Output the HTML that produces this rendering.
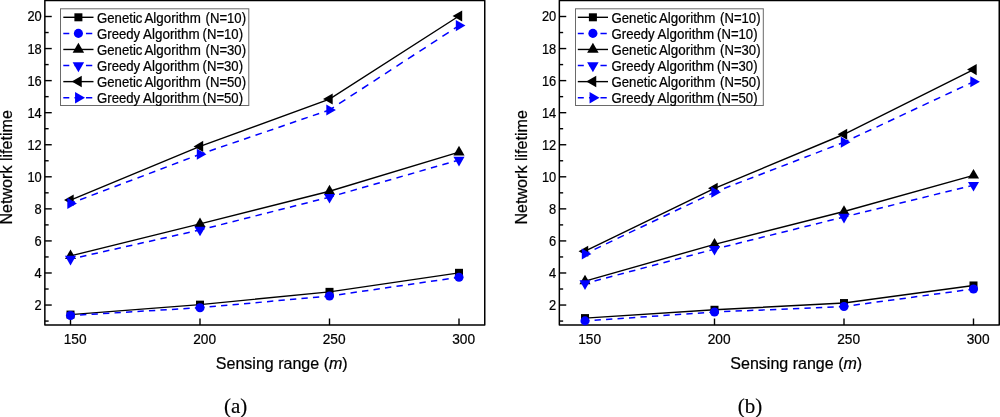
<!DOCTYPE html>
<html lang="en"><head><meta charset="utf-8"><title>Network lifetime vs sensing range</title>
<style>html,body{margin:0;padding:0;background:#fff;}svg{display:block;}text{fill:#000;}</style></head><body>
<svg width="1000" height="417" viewBox="0 0 1000 417">
<rect x="0" y="0" width="1000" height="417" fill="#fff"/>
<g transform="translate(0,0)">
<rect x="44.85" y="0.5" width="439.90" height="324.60" fill="none" stroke="#000" stroke-width="1.5" stroke-linejoin="round"/>
<line x1="44.85" y1="321.07" x2="48.65" y2="321.07" stroke="#000" stroke-width="1.4"/>
<line x1="44.85" y1="305.04" x2="51.75" y2="305.04" stroke="#000" stroke-width="1.4"/>
<text transform="translate(41.70,309.99) scale(0.94,1.07)" text-anchor="end" font-size="13.7" font-family="Liberation Sans, Arial, Helvetica, sans-serif" stroke="#000" stroke-width="0.22">2</text>
<line x1="44.85" y1="289.01" x2="48.65" y2="289.01" stroke="#000" stroke-width="1.4"/>
<line x1="44.85" y1="272.98" x2="51.75" y2="272.98" stroke="#000" stroke-width="1.4"/>
<text transform="translate(41.70,277.93) scale(0.94,1.07)" text-anchor="end" font-size="13.7" font-family="Liberation Sans, Arial, Helvetica, sans-serif" stroke="#000" stroke-width="0.22">4</text>
<line x1="44.85" y1="256.95" x2="48.65" y2="256.95" stroke="#000" stroke-width="1.4"/>
<line x1="44.85" y1="240.92" x2="51.75" y2="240.92" stroke="#000" stroke-width="1.4"/>
<text transform="translate(41.70,245.87) scale(0.94,1.07)" text-anchor="end" font-size="13.7" font-family="Liberation Sans, Arial, Helvetica, sans-serif" stroke="#000" stroke-width="0.22">6</text>
<line x1="44.85" y1="224.89" x2="48.65" y2="224.89" stroke="#000" stroke-width="1.4"/>
<line x1="44.85" y1="208.86" x2="51.75" y2="208.86" stroke="#000" stroke-width="1.4"/>
<text transform="translate(41.70,213.81) scale(0.94,1.07)" text-anchor="end" font-size="13.7" font-family="Liberation Sans, Arial, Helvetica, sans-serif" stroke="#000" stroke-width="0.22">8</text>
<line x1="44.85" y1="192.83" x2="48.65" y2="192.83" stroke="#000" stroke-width="1.4"/>
<line x1="44.85" y1="176.80" x2="51.75" y2="176.80" stroke="#000" stroke-width="1.4"/>
<text transform="translate(41.70,181.75) scale(0.94,1.07)" text-anchor="end" font-size="13.7" font-family="Liberation Sans, Arial, Helvetica, sans-serif" stroke="#000" stroke-width="0.22">10</text>
<line x1="44.85" y1="160.77" x2="48.65" y2="160.77" stroke="#000" stroke-width="1.4"/>
<line x1="44.85" y1="144.74" x2="51.75" y2="144.74" stroke="#000" stroke-width="1.4"/>
<text transform="translate(41.70,149.69) scale(0.94,1.07)" text-anchor="end" font-size="13.7" font-family="Liberation Sans, Arial, Helvetica, sans-serif" stroke="#000" stroke-width="0.22">12</text>
<line x1="44.85" y1="128.71" x2="48.65" y2="128.71" stroke="#000" stroke-width="1.4"/>
<line x1="44.85" y1="112.68" x2="51.75" y2="112.68" stroke="#000" stroke-width="1.4"/>
<text transform="translate(41.70,117.63) scale(0.94,1.07)" text-anchor="end" font-size="13.7" font-family="Liberation Sans, Arial, Helvetica, sans-serif" stroke="#000" stroke-width="0.22">14</text>
<line x1="44.85" y1="96.65" x2="48.65" y2="96.65" stroke="#000" stroke-width="1.4"/>
<line x1="44.85" y1="80.62" x2="51.75" y2="80.62" stroke="#000" stroke-width="1.4"/>
<text transform="translate(41.70,85.57) scale(0.94,1.07)" text-anchor="end" font-size="13.7" font-family="Liberation Sans, Arial, Helvetica, sans-serif" stroke="#000" stroke-width="0.22">16</text>
<line x1="44.85" y1="64.59" x2="48.65" y2="64.59" stroke="#000" stroke-width="1.4"/>
<line x1="44.85" y1="48.56" x2="51.75" y2="48.56" stroke="#000" stroke-width="1.4"/>
<text transform="translate(41.70,53.51) scale(0.94,1.07)" text-anchor="end" font-size="13.7" font-family="Liberation Sans, Arial, Helvetica, sans-serif" stroke="#000" stroke-width="0.22">18</text>
<line x1="44.85" y1="32.53" x2="48.65" y2="32.53" stroke="#000" stroke-width="1.4"/>
<line x1="44.85" y1="16.50" x2="51.75" y2="16.50" stroke="#000" stroke-width="1.4"/>
<text transform="translate(41.70,21.45) scale(0.94,1.07)" text-anchor="end" font-size="13.7" font-family="Liberation Sans, Arial, Helvetica, sans-serif" stroke="#000" stroke-width="0.22">20</text>
<line x1="70.50" y1="325.1" x2="70.50" y2="318.50" stroke="#000" stroke-width="1.4"/>
<text transform="translate(75.10,343.60) scale(1.0,1.07)" text-anchor="middle" font-size="13.7" font-family="Liberation Sans, Arial, Helvetica, sans-serif" stroke="#000" stroke-width="0.22">150</text>
<line x1="200.00" y1="325.1" x2="200.00" y2="318.50" stroke="#000" stroke-width="1.4"/>
<text transform="translate(204.60,343.60) scale(1.0,1.07)" text-anchor="middle" font-size="13.7" font-family="Liberation Sans, Arial, Helvetica, sans-serif" stroke="#000" stroke-width="0.22">200</text>
<line x1="329.50" y1="325.1" x2="329.50" y2="318.50" stroke="#000" stroke-width="1.4"/>
<text transform="translate(334.10,343.60) scale(1.0,1.07)" text-anchor="middle" font-size="13.7" font-family="Liberation Sans, Arial, Helvetica, sans-serif" stroke="#000" stroke-width="0.22">250</text>
<line x1="459.00" y1="325.1" x2="459.00" y2="318.50" stroke="#000" stroke-width="1.4"/>
<text transform="translate(463.60,343.60) scale(1.0,1.07)" text-anchor="middle" font-size="13.7" font-family="Liberation Sans, Arial, Helvetica, sans-serif" stroke="#000" stroke-width="0.22">300</text>
<text transform="translate(215.80,368.60)" text-anchor="start" font-size="16.05" font-family="Liberation Sans, Arial, Helvetica, sans-serif" stroke="#000" stroke-width="0.22">Sensing range (<tspan font-style="italic">m</tspan>)</text>
<text transform="translate(12.30,224.60) rotate(-90)" text-anchor="start" font-size="16.1" font-family="Liberation Sans, Arial, Helvetica, sans-serif" stroke="#000" stroke-width="0.22">Network lifetime</text>
<text transform="translate(235.60,413.00)" text-anchor="middle" font-size="21" font-family="Liberation Serif, Times New Roman, Times, serif" stroke="#000" stroke-width="0.15">(a)</text>
<polyline points="70.50,314.58 200.00,304.66 329.50,291.86 459.00,272.82" fill="none" stroke="#000" stroke-width="1.4"/>
<rect x="66.50" y="310.58" width="8.0" height="8.0" fill="#000"/>
<rect x="196.00" y="300.66" width="8.0" height="8.0" fill="#000"/>
<rect x="325.50" y="287.86" width="8.0" height="8.0" fill="#000"/>
<rect x="455.00" y="268.82" width="8.0" height="8.0" fill="#000"/>
<line x1="70.50" y1="315.54" x2="200.00" y2="307.70" stroke="#00f" stroke-width="1.5" stroke-dasharray="6.31 5.19" stroke-dashoffset="1.90"/>
<line x1="200.00" y1="307.70" x2="329.50" y2="296.02" stroke="#00f" stroke-width="1.5" stroke-dasharray="6.33 5.20" stroke-dashoffset="1.91"/>
<line x1="329.50" y1="296.02" x2="459.00" y2="277.30" stroke="#00f" stroke-width="1.5" stroke-dasharray="6.37 5.23" stroke-dashoffset="1.92"/>
<circle cx="70.50" cy="315.54" r="4.55" fill="#00f"/>
<circle cx="200.00" cy="307.70" r="4.55" fill="#00f"/>
<circle cx="329.50" cy="296.02" r="4.55" fill="#00f"/>
<circle cx="459.00" cy="277.30" r="4.55" fill="#00f"/>
<polyline points="70.50,255.86 200.00,223.86 329.50,191.22 459.00,152.18" fill="none" stroke="#000" stroke-width="1.4"/>
<polygon points="70.50,249.45 64.95,259.06 76.05,259.06" fill="#000"/>
<polygon points="200.00,217.45 194.45,227.06 205.55,227.06" fill="#000"/>
<polygon points="329.50,184.81 323.95,194.42 335.05,194.42" fill="#000"/>
<polygon points="459.00,145.77 453.45,155.38 464.55,155.38" fill="#000"/>
<line x1="70.50" y1="259.06" x2="200.00" y2="229.94" stroke="#00f" stroke-width="1.5" stroke-dasharray="6.46 5.31" stroke-dashoffset="1.95"/>
<line x1="200.00" y1="229.94" x2="329.50" y2="197.14" stroke="#00f" stroke-width="1.5" stroke-dasharray="6.50 5.34" stroke-dashoffset="1.96"/>
<line x1="329.50" y1="197.14" x2="459.00" y2="160.02" stroke="#00f" stroke-width="1.5" stroke-dasharray="6.55 5.39" stroke-dashoffset="1.98"/>
<polygon points="70.50,265.47 64.95,255.86 76.05,255.86" fill="#00f"/>
<polygon points="200.00,236.35 194.45,226.74 205.55,226.74" fill="#00f"/>
<polygon points="329.50,203.55 323.95,193.94 335.05,193.94" fill="#00f"/>
<polygon points="459.00,166.43 453.45,156.82 464.55,156.82" fill="#00f"/>
<polyline points="70.50,200.10 200.00,146.42 329.50,99.06 459.00,16.02" fill="none" stroke="#000" stroke-width="1.4"/>
<polygon points="64.09,200.10 73.70,194.55 73.70,205.65" fill="#000"/>
<polygon points="193.59,146.42 203.20,140.87 203.20,151.97" fill="#000"/>
<polygon points="323.09,99.06 332.70,93.51 332.70,104.61" fill="#000"/>
<polygon points="452.59,16.02 462.20,10.47 462.20,21.57" fill="#000"/>
<line x1="70.50" y1="203.38" x2="200.00" y2="154.26" stroke="#00f" stroke-width="1.5" stroke-dasharray="6.74 5.54" stroke-dashoffset="2.03"/>
<line x1="200.00" y1="154.26" x2="329.50" y2="109.94" stroke="#00f" stroke-width="1.5" stroke-dasharray="6.66 5.47" stroke-dashoffset="2.01"/>
<line x1="329.50" y1="109.94" x2="459.00" y2="25.62" stroke="#00f" stroke-width="1.5" stroke-dasharray="7.52 6.18" stroke-dashoffset="2.27"/>
<polygon points="76.91,203.38 67.30,197.83 67.30,208.93" fill="#00f"/>
<polygon points="206.41,154.26 196.80,148.71 196.80,159.81" fill="#00f"/>
<polygon points="335.91,109.94 326.30,104.39 326.30,115.49" fill="#00f"/>
<polygon points="465.41,25.62 455.80,20.07 455.80,31.17" fill="#00f"/>
<rect x="60.5" y="8.8" width="188.3" height="96.7" fill="#fff" stroke="#6a6a6a" stroke-width="1"/>
<line x1="63.3" y1="17.30" x2="93.5" y2="17.30" stroke="#000" stroke-width="1.4"/>
<rect x="74.40" y="13.30" width="8.0" height="8.0" fill="#000"/>
<text transform="translate(97.00,23.05) scale(0.992,1.04)" text-anchor="start" font-size="13.3" font-family="Liberation Sans, Arial, Helvetica, sans-serif" stroke="#000" stroke-width="0.22">Genetic</text>
<text transform="translate(144.40,23.05) scale(1.007,1.04)" text-anchor="start" font-size="13.3" font-family="Liberation Sans, Arial, Helvetica, sans-serif" stroke="#000" stroke-width="0.22">Algorithm</text>
<text transform="translate(205.60,23.05) scale(0.985,1.04)" text-anchor="start" font-size="13.3" font-family="Liberation Sans, Arial, Helvetica, sans-serif" stroke="#000" stroke-width="0.22">(N=10)</text>
<line x1="63.3" y1="33.38" x2="93.0" y2="33.38" stroke="#00f" stroke-width="1.5" stroke-dasharray="6.3 5.18" stroke-dashoffset="0.3"/>
<circle cx="78.40" cy="33.38" r="4.55" fill="#00f"/>
<text transform="translate(97.00,39.13) scale(0.992,1.04)" text-anchor="start" font-size="13.3" font-family="Liberation Sans, Arial, Helvetica, sans-serif" stroke="#000" stroke-width="0.22">Greedy</text>
<text transform="translate(143.10,39.13) scale(1.007,1.04)" text-anchor="start" font-size="13.3" font-family="Liberation Sans, Arial, Helvetica, sans-serif" stroke="#000" stroke-width="0.22">Algorithm</text>
<text transform="translate(202.60,39.13) scale(0.985,1.04)" text-anchor="start" font-size="13.3" font-family="Liberation Sans, Arial, Helvetica, sans-serif" stroke="#000" stroke-width="0.22">(N=10)</text>
<line x1="63.3" y1="49.46" x2="93.5" y2="49.46" stroke="#000" stroke-width="1.4"/>
<polygon points="78.40,42.82 72.65,52.78 84.15,52.78" fill="#000"/>
<text transform="translate(97.00,55.41) scale(0.992,1.04)" text-anchor="start" font-size="13.3" font-family="Liberation Sans, Arial, Helvetica, sans-serif" stroke="#000" stroke-width="0.22">Genetic</text>
<text transform="translate(144.40,55.41) scale(1.007,1.04)" text-anchor="start" font-size="13.3" font-family="Liberation Sans, Arial, Helvetica, sans-serif" stroke="#000" stroke-width="0.22">Algorithm</text>
<text transform="translate(205.60,55.41) scale(0.985,1.04)" text-anchor="start" font-size="13.3" font-family="Liberation Sans, Arial, Helvetica, sans-serif" stroke="#000" stroke-width="0.22">(N=30)</text>
<line x1="63.3" y1="65.54" x2="93.0" y2="65.54" stroke="#00f" stroke-width="1.5" stroke-dasharray="6.3 5.18" stroke-dashoffset="0.3"/>
<polygon points="78.40,72.18 72.65,62.22 84.15,62.22" fill="#00f"/>
<text transform="translate(97.00,71.29) scale(0.992,1.04)" text-anchor="start" font-size="13.3" font-family="Liberation Sans, Arial, Helvetica, sans-serif" stroke="#000" stroke-width="0.22">Greedy</text>
<text transform="translate(143.10,71.29) scale(1.007,1.04)" text-anchor="start" font-size="13.3" font-family="Liberation Sans, Arial, Helvetica, sans-serif" stroke="#000" stroke-width="0.22">Algorithm</text>
<text transform="translate(202.60,71.29) scale(0.985,1.04)" text-anchor="start" font-size="13.3" font-family="Liberation Sans, Arial, Helvetica, sans-serif" stroke="#000" stroke-width="0.22">(N=30)</text>
<line x1="63.3" y1="81.62" x2="93.5" y2="81.62" stroke="#000" stroke-width="1.4"/>
<polygon points="71.76,81.62 81.72,75.87 81.72,87.37" fill="#000"/>
<text transform="translate(97.00,87.47) scale(0.992,1.04)" text-anchor="start" font-size="13.3" font-family="Liberation Sans, Arial, Helvetica, sans-serif" stroke="#000" stroke-width="0.22">Genetic</text>
<text transform="translate(144.40,87.47) scale(1.007,1.04)" text-anchor="start" font-size="13.3" font-family="Liberation Sans, Arial, Helvetica, sans-serif" stroke="#000" stroke-width="0.22">Algorithm</text>
<text transform="translate(205.60,87.47) scale(0.985,1.04)" text-anchor="start" font-size="13.3" font-family="Liberation Sans, Arial, Helvetica, sans-serif" stroke="#000" stroke-width="0.22">(N=50)</text>
<line x1="63.3" y1="97.70" x2="93.0" y2="97.70" stroke="#00f" stroke-width="1.5" stroke-dasharray="6.3 5.18" stroke-dashoffset="0.3"/>
<polygon points="85.04,97.70 75.08,91.95 75.08,103.45" fill="#00f"/>
<text transform="translate(97.00,102.95) scale(0.992,1.04)" text-anchor="start" font-size="13.3" font-family="Liberation Sans, Arial, Helvetica, sans-serif" stroke="#000" stroke-width="0.22">Greedy</text>
<text transform="translate(143.10,102.95) scale(1.007,1.04)" text-anchor="start" font-size="13.3" font-family="Liberation Sans, Arial, Helvetica, sans-serif" stroke="#000" stroke-width="0.22">Algorithm</text>
<text transform="translate(202.60,102.95) scale(0.985,1.04)" text-anchor="start" font-size="13.3" font-family="Liberation Sans, Arial, Helvetica, sans-serif" stroke="#000" stroke-width="0.22">(N=50)</text>
</g>
<g transform="translate(514.5,0)">
<rect x="44.85" y="0.5" width="439.90" height="324.60" fill="none" stroke="#000" stroke-width="1.5" stroke-linejoin="round"/>
<line x1="44.85" y1="321.07" x2="48.65" y2="321.07" stroke="#000" stroke-width="1.4"/>
<line x1="44.85" y1="305.04" x2="51.75" y2="305.04" stroke="#000" stroke-width="1.4"/>
<text transform="translate(41.70,309.99) scale(0.94,1.07)" text-anchor="end" font-size="13.7" font-family="Liberation Sans, Arial, Helvetica, sans-serif" stroke="#000" stroke-width="0.22">2</text>
<line x1="44.85" y1="289.01" x2="48.65" y2="289.01" stroke="#000" stroke-width="1.4"/>
<line x1="44.85" y1="272.98" x2="51.75" y2="272.98" stroke="#000" stroke-width="1.4"/>
<text transform="translate(41.70,277.93) scale(0.94,1.07)" text-anchor="end" font-size="13.7" font-family="Liberation Sans, Arial, Helvetica, sans-serif" stroke="#000" stroke-width="0.22">4</text>
<line x1="44.85" y1="256.95" x2="48.65" y2="256.95" stroke="#000" stroke-width="1.4"/>
<line x1="44.85" y1="240.92" x2="51.75" y2="240.92" stroke="#000" stroke-width="1.4"/>
<text transform="translate(41.70,245.87) scale(0.94,1.07)" text-anchor="end" font-size="13.7" font-family="Liberation Sans, Arial, Helvetica, sans-serif" stroke="#000" stroke-width="0.22">6</text>
<line x1="44.85" y1="224.89" x2="48.65" y2="224.89" stroke="#000" stroke-width="1.4"/>
<line x1="44.85" y1="208.86" x2="51.75" y2="208.86" stroke="#000" stroke-width="1.4"/>
<text transform="translate(41.70,213.81) scale(0.94,1.07)" text-anchor="end" font-size="13.7" font-family="Liberation Sans, Arial, Helvetica, sans-serif" stroke="#000" stroke-width="0.22">8</text>
<line x1="44.85" y1="192.83" x2="48.65" y2="192.83" stroke="#000" stroke-width="1.4"/>
<line x1="44.85" y1="176.80" x2="51.75" y2="176.80" stroke="#000" stroke-width="1.4"/>
<text transform="translate(41.70,181.75) scale(0.94,1.07)" text-anchor="end" font-size="13.7" font-family="Liberation Sans, Arial, Helvetica, sans-serif" stroke="#000" stroke-width="0.22">10</text>
<line x1="44.85" y1="160.77" x2="48.65" y2="160.77" stroke="#000" stroke-width="1.4"/>
<line x1="44.85" y1="144.74" x2="51.75" y2="144.74" stroke="#000" stroke-width="1.4"/>
<text transform="translate(41.70,149.69) scale(0.94,1.07)" text-anchor="end" font-size="13.7" font-family="Liberation Sans, Arial, Helvetica, sans-serif" stroke="#000" stroke-width="0.22">12</text>
<line x1="44.85" y1="128.71" x2="48.65" y2="128.71" stroke="#000" stroke-width="1.4"/>
<line x1="44.85" y1="112.68" x2="51.75" y2="112.68" stroke="#000" stroke-width="1.4"/>
<text transform="translate(41.70,117.63) scale(0.94,1.07)" text-anchor="end" font-size="13.7" font-family="Liberation Sans, Arial, Helvetica, sans-serif" stroke="#000" stroke-width="0.22">14</text>
<line x1="44.85" y1="96.65" x2="48.65" y2="96.65" stroke="#000" stroke-width="1.4"/>
<line x1="44.85" y1="80.62" x2="51.75" y2="80.62" stroke="#000" stroke-width="1.4"/>
<text transform="translate(41.70,85.57) scale(0.94,1.07)" text-anchor="end" font-size="13.7" font-family="Liberation Sans, Arial, Helvetica, sans-serif" stroke="#000" stroke-width="0.22">16</text>
<line x1="44.85" y1="64.59" x2="48.65" y2="64.59" stroke="#000" stroke-width="1.4"/>
<line x1="44.85" y1="48.56" x2="51.75" y2="48.56" stroke="#000" stroke-width="1.4"/>
<text transform="translate(41.70,53.51) scale(0.94,1.07)" text-anchor="end" font-size="13.7" font-family="Liberation Sans, Arial, Helvetica, sans-serif" stroke="#000" stroke-width="0.22">18</text>
<line x1="44.85" y1="32.53" x2="48.65" y2="32.53" stroke="#000" stroke-width="1.4"/>
<line x1="44.85" y1="16.50" x2="51.75" y2="16.50" stroke="#000" stroke-width="1.4"/>
<text transform="translate(41.70,21.45) scale(0.94,1.07)" text-anchor="end" font-size="13.7" font-family="Liberation Sans, Arial, Helvetica, sans-serif" stroke="#000" stroke-width="0.22">20</text>
<line x1="70.50" y1="325.1" x2="70.50" y2="318.50" stroke="#000" stroke-width="1.4"/>
<text transform="translate(75.10,343.60) scale(1.0,1.07)" text-anchor="middle" font-size="13.7" font-family="Liberation Sans, Arial, Helvetica, sans-serif" stroke="#000" stroke-width="0.22">150</text>
<line x1="200.00" y1="325.1" x2="200.00" y2="318.50" stroke="#000" stroke-width="1.4"/>
<text transform="translate(204.60,343.60) scale(1.0,1.07)" text-anchor="middle" font-size="13.7" font-family="Liberation Sans, Arial, Helvetica, sans-serif" stroke="#000" stroke-width="0.22">200</text>
<line x1="329.50" y1="325.1" x2="329.50" y2="318.50" stroke="#000" stroke-width="1.4"/>
<text transform="translate(334.10,343.60) scale(1.0,1.07)" text-anchor="middle" font-size="13.7" font-family="Liberation Sans, Arial, Helvetica, sans-serif" stroke="#000" stroke-width="0.22">250</text>
<line x1="459.00" y1="325.1" x2="459.00" y2="318.50" stroke="#000" stroke-width="1.4"/>
<text transform="translate(463.60,343.60) scale(1.0,1.07)" text-anchor="middle" font-size="13.7" font-family="Liberation Sans, Arial, Helvetica, sans-serif" stroke="#000" stroke-width="0.22">300</text>
<text transform="translate(215.80,368.60)" text-anchor="start" font-size="16.05" font-family="Liberation Sans, Arial, Helvetica, sans-serif" stroke="#000" stroke-width="0.22">Sensing range (<tspan font-style="italic">m</tspan>)</text>
<text transform="translate(12.30,224.60) rotate(-90)" text-anchor="start" font-size="16.1" font-family="Liberation Sans, Arial, Helvetica, sans-serif" stroke="#000" stroke-width="0.22">Network lifetime</text>
<text transform="translate(235.60,413.00)" text-anchor="middle" font-size="21" font-family="Liberation Serif, Times New Roman, Times, serif" stroke="#000" stroke-width="0.15">(b)</text>
<polyline points="70.50,318.10 200.00,309.78 329.50,303.06 459.00,285.46" fill="none" stroke="#000" stroke-width="1.4"/>
<rect x="66.50" y="314.10" width="8.0" height="8.0" fill="#000"/>
<rect x="196.00" y="305.78" width="8.0" height="8.0" fill="#000"/>
<rect x="325.50" y="299.06" width="8.0" height="8.0" fill="#000"/>
<rect x="455.00" y="281.46" width="8.0" height="8.0" fill="#000"/>
<line x1="70.50" y1="320.90" x2="200.00" y2="312.02" stroke="#00f" stroke-width="1.5" stroke-dasharray="6.31 5.19" stroke-dashoffset="1.90"/>
<line x1="200.00" y1="312.02" x2="329.50" y2="306.50" stroke="#00f" stroke-width="1.5" stroke-dasharray="6.31 5.18" stroke-dashoffset="1.90"/>
<line x1="329.50" y1="306.50" x2="459.00" y2="288.98" stroke="#00f" stroke-width="1.5" stroke-dasharray="6.36 5.23" stroke-dashoffset="1.92"/>
<circle cx="70.50" cy="320.90" r="4.55" fill="#00f"/>
<circle cx="200.00" cy="312.02" r="4.55" fill="#00f"/>
<circle cx="329.50" cy="306.50" r="4.55" fill="#00f"/>
<circle cx="459.00" cy="288.98" r="4.55" fill="#00f"/>
<polyline points="70.50,281.14 200.00,244.34 329.50,211.54 459.00,175.30" fill="none" stroke="#000" stroke-width="1.4"/>
<polygon points="70.50,274.73 64.95,284.34 76.05,284.34" fill="#000"/>
<polygon points="200.00,237.93 194.45,247.54 205.55,247.54" fill="#000"/>
<polygon points="329.50,205.13 323.95,214.74 335.05,214.74" fill="#000"/>
<polygon points="459.00,168.89 453.45,178.50 464.55,178.50" fill="#000"/>
<line x1="70.50" y1="283.54" x2="200.00" y2="249.14" stroke="#00f" stroke-width="1.5" stroke-dasharray="6.52 5.36" stroke-dashoffset="1.97"/>
<line x1="200.00" y1="249.14" x2="329.50" y2="216.98" stroke="#00f" stroke-width="1.5" stroke-dasharray="6.49 5.34" stroke-dashoffset="1.96"/>
<line x1="329.50" y1="216.98" x2="459.00" y2="185.14" stroke="#00f" stroke-width="1.5" stroke-dasharray="6.49 5.33" stroke-dashoffset="1.96"/>
<polygon points="70.50,289.95 64.95,280.34 76.05,280.34" fill="#00f"/>
<polygon points="200.00,255.55 194.45,245.94 205.55,245.94" fill="#00f"/>
<polygon points="329.50,223.39 323.95,213.78 335.05,213.78" fill="#00f"/>
<polygon points="459.00,191.55 453.45,181.94 464.55,181.94" fill="#00f"/>
<polyline points="70.50,251.22 200.00,188.34 329.50,134.26 459.00,69.62" fill="none" stroke="#000" stroke-width="1.4"/>
<polygon points="64.09,251.22 73.70,245.67 73.70,256.77" fill="#000"/>
<polygon points="193.59,188.34 203.20,182.79 203.20,193.89" fill="#000"/>
<polygon points="323.09,134.26 332.70,128.71 332.70,139.81" fill="#000"/>
<polygon points="452.59,69.62 462.20,64.07 462.20,75.17" fill="#000"/>
<line x1="70.50" y1="253.94" x2="200.00" y2="192.18" stroke="#00f" stroke-width="1.5" stroke-dasharray="6.98 5.74" stroke-dashoffset="2.11"/>
<line x1="200.00" y1="192.18" x2="329.50" y2="142.26" stroke="#00f" stroke-width="1.5" stroke-dasharray="6.75 5.55" stroke-dashoffset="2.04"/>
<line x1="329.50" y1="142.26" x2="459.00" y2="81.78" stroke="#00f" stroke-width="1.5" stroke-dasharray="6.95 5.72" stroke-dashoffset="2.10"/>
<polygon points="76.91,253.94 67.30,248.39 67.30,259.49" fill="#00f"/>
<polygon points="206.41,192.18 196.80,186.63 196.80,197.73" fill="#00f"/>
<polygon points="335.91,142.26 326.30,136.71 326.30,147.81" fill="#00f"/>
<polygon points="465.41,81.78 455.80,76.23 455.80,87.33" fill="#00f"/>
<rect x="61.0" y="8.8" width="187.8" height="96.7" fill="#fff" stroke="#6a6a6a" stroke-width="1"/>
<line x1="63.3" y1="17.30" x2="93.5" y2="17.30" stroke="#000" stroke-width="1.4"/>
<rect x="74.40" y="13.30" width="8.0" height="8.0" fill="#000"/>
<text transform="translate(97.00,23.05) scale(0.992,1.04)" text-anchor="start" font-size="13.3" font-family="Liberation Sans, Arial, Helvetica, sans-serif" stroke="#000" stroke-width="0.22">Genetic</text>
<text transform="translate(144.40,23.05) scale(1.007,1.04)" text-anchor="start" font-size="13.3" font-family="Liberation Sans, Arial, Helvetica, sans-serif" stroke="#000" stroke-width="0.22">Algorithm</text>
<text transform="translate(205.60,23.05) scale(0.985,1.04)" text-anchor="start" font-size="13.3" font-family="Liberation Sans, Arial, Helvetica, sans-serif" stroke="#000" stroke-width="0.22">(N=10)</text>
<line x1="63.3" y1="33.38" x2="93.0" y2="33.38" stroke="#00f" stroke-width="1.5" stroke-dasharray="6.3 5.18" stroke-dashoffset="0.3"/>
<circle cx="78.40" cy="33.38" r="4.55" fill="#00f"/>
<text transform="translate(97.00,39.13) scale(0.992,1.04)" text-anchor="start" font-size="13.3" font-family="Liberation Sans, Arial, Helvetica, sans-serif" stroke="#000" stroke-width="0.22">Greedy</text>
<text transform="translate(143.10,39.13) scale(1.007,1.04)" text-anchor="start" font-size="13.3" font-family="Liberation Sans, Arial, Helvetica, sans-serif" stroke="#000" stroke-width="0.22">Algorithm</text>
<text transform="translate(202.60,39.13) scale(0.985,1.04)" text-anchor="start" font-size="13.3" font-family="Liberation Sans, Arial, Helvetica, sans-serif" stroke="#000" stroke-width="0.22">(N=10)</text>
<line x1="63.3" y1="49.46" x2="93.5" y2="49.46" stroke="#000" stroke-width="1.4"/>
<polygon points="78.40,42.82 72.65,52.78 84.15,52.78" fill="#000"/>
<text transform="translate(97.00,55.41) scale(0.992,1.04)" text-anchor="start" font-size="13.3" font-family="Liberation Sans, Arial, Helvetica, sans-serif" stroke="#000" stroke-width="0.22">Genetic</text>
<text transform="translate(144.40,55.41) scale(1.007,1.04)" text-anchor="start" font-size="13.3" font-family="Liberation Sans, Arial, Helvetica, sans-serif" stroke="#000" stroke-width="0.22">Algorithm</text>
<text transform="translate(205.60,55.41) scale(0.985,1.04)" text-anchor="start" font-size="13.3" font-family="Liberation Sans, Arial, Helvetica, sans-serif" stroke="#000" stroke-width="0.22">(N=30)</text>
<line x1="63.3" y1="65.54" x2="93.0" y2="65.54" stroke="#00f" stroke-width="1.5" stroke-dasharray="6.3 5.18" stroke-dashoffset="0.3"/>
<polygon points="78.40,72.18 72.65,62.22 84.15,62.22" fill="#00f"/>
<text transform="translate(97.00,71.29) scale(0.992,1.04)" text-anchor="start" font-size="13.3" font-family="Liberation Sans, Arial, Helvetica, sans-serif" stroke="#000" stroke-width="0.22">Greedy</text>
<text transform="translate(143.10,71.29) scale(1.007,1.04)" text-anchor="start" font-size="13.3" font-family="Liberation Sans, Arial, Helvetica, sans-serif" stroke="#000" stroke-width="0.22">Algorithm</text>
<text transform="translate(202.60,71.29) scale(0.985,1.04)" text-anchor="start" font-size="13.3" font-family="Liberation Sans, Arial, Helvetica, sans-serif" stroke="#000" stroke-width="0.22">(N=30)</text>
<line x1="63.3" y1="81.62" x2="93.5" y2="81.62" stroke="#000" stroke-width="1.4"/>
<polygon points="71.76,81.62 81.72,75.87 81.72,87.37" fill="#000"/>
<text transform="translate(97.00,87.47) scale(0.992,1.04)" text-anchor="start" font-size="13.3" font-family="Liberation Sans, Arial, Helvetica, sans-serif" stroke="#000" stroke-width="0.22">Genetic</text>
<text transform="translate(144.40,87.47) scale(1.007,1.04)" text-anchor="start" font-size="13.3" font-family="Liberation Sans, Arial, Helvetica, sans-serif" stroke="#000" stroke-width="0.22">Algorithm</text>
<text transform="translate(205.60,87.47) scale(0.985,1.04)" text-anchor="start" font-size="13.3" font-family="Liberation Sans, Arial, Helvetica, sans-serif" stroke="#000" stroke-width="0.22">(N=50)</text>
<line x1="63.3" y1="97.70" x2="93.0" y2="97.70" stroke="#00f" stroke-width="1.5" stroke-dasharray="6.3 5.18" stroke-dashoffset="0.3"/>
<polygon points="85.04,97.70 75.08,91.95 75.08,103.45" fill="#00f"/>
<text transform="translate(97.00,102.95) scale(0.992,1.04)" text-anchor="start" font-size="13.3" font-family="Liberation Sans, Arial, Helvetica, sans-serif" stroke="#000" stroke-width="0.22">Greedy</text>
<text transform="translate(143.10,102.95) scale(1.007,1.04)" text-anchor="start" font-size="13.3" font-family="Liberation Sans, Arial, Helvetica, sans-serif" stroke="#000" stroke-width="0.22">Algorithm</text>
<text transform="translate(202.60,102.95) scale(0.985,1.04)" text-anchor="start" font-size="13.3" font-family="Liberation Sans, Arial, Helvetica, sans-serif" stroke="#000" stroke-width="0.22">(N=50)</text>
</g>
</svg></body></html>
